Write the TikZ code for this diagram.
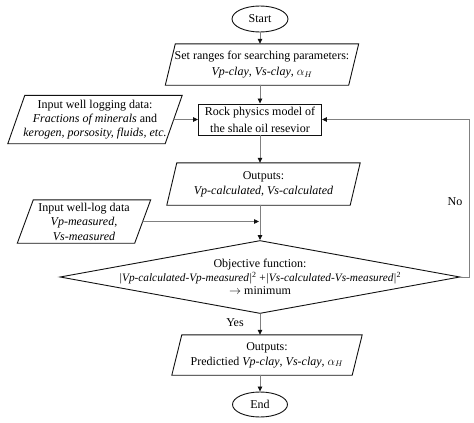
\documentclass[tikz,border=0pt]{standalone}
\usepackage{fontspec}
\setmainfont{Liberation Serif}
\usetikzlibrary{arrows.meta}
\usetikzlibrary{positioning}
\usetikzlibrary{shapes.geometric}
\definecolor{fcink}{HTML}{111111}
\definecolor{fcline}{HTML}{808080}
\tikzset{
  fcterm/.style={
    draw=fcink, ellipse, line width=0.9pt, inner sep=0pt,
    minimum width=56pt, minimum height=26pt},
  fcproc/.style={
    draw=fcink, line width=0.9pt, inner sep=0pt, align=center},
  fcio/.style={inner sep=0pt, align=center},
  fcedge/.style={draw=fcink, line width=0.9pt, line join=miter},
  fcdecide/.style={
    draw=fcink, diamond, line width=0.9pt, inner sep=0pt,
    minimum width=400pt, minimum height=73pt},
  fcarrow/.style={
    draw=fcline, line width=0.8pt,
    -{Triangle[length=5pt, width=4.5pt, color=fcink]}},
  every picture/.style={line cap=round},
}
% slanted outline round an io node: #1 node, #2 half the slant
\newcommand{\fcslant}[2]{%
  \draw[fcedge] ([xshift=#2]#1.north west) -- ([xshift=#2]#1.north east)
    -- ([xshift=-#2]#1.south east) -- ([xshift=-#2]#1.south west) -- cycle;}

\begin{document}
\begin{tikzpicture}[x=1pt, y=-1pt, font=\fontsize{12}{15}\selectfont]
\useasboundingbox (0,0) rectangle (474,423);

% Terminals and main column.
\node[fcterm] (start) at (260,19) {Start};

\node[fcio, minimum width=183pt, minimum height=41pt,
      font=\fontsize{12}{16}\selectfont] (setr) at (262,64.5)
  {Set ranges for searching parameters:\\
   \textit{Vp-clay}, \textit{Vs-clay}, $\alpha_H$};
\fcslant{setr}{5pt}

\node[fcproc, minimum width=123pt, minimum height=31pt,
      font=\fontsize{12}{17}\selectfont] (rock) at (260,119.5)
  {Rock physics model of\\the shale oil resevior};

\node[fcio, minimum width=157pt, minimum height=48pt,
      font=\fontsize{12}{14}\selectfont] (wlog) at (95,119.5)
  {Input well logging data:\\
   \textit{Fractions of minerals} and\\
   \textit{kerogen, porsosity, fluids, etc.}};
\fcslant{wlog}{8.5pt}

\node[fcio, minimum width=183pt, minimum height=42pt] (outc) at (263.5,184)
  {Outputs:\\ \textit{Vp-calculated, Vs-calculated}};
\fcslant{outc}{5pt}

\node[fcio, minimum width=117pt, minimum height=43pt,
      font=\fontsize{12}{14.5}\selectfont] (wmeas) at (84,221.5)
  {Input well-log data\\ \textit{Vp-measured},\\ \textit{Vs-measured}};
\fcslant{wmeas}{8pt}

% Decision.
\node[fcdecide] (obj) at (260,277) {};
\node[fcio, font=\fontsize{12}{13.5}\selectfont] (objtext) at (obj)
  {Objective function:\\
   {\fontsize{11.3}{13.5}\selectfont
   \textit{|Vp-calculated-Vp-measured|}\textsuperscript{2}
   +\textit{|Vs-calculated-Vs-measured|}\textsuperscript{2}}\\
   $\rightarrow$ minimum};

\node[fcio, minimum width=180pt, minimum height=40pt] (outp) at (267,355)
  {Outputs:\\ Predictied \textit{Vp-clay}, \textit{Vs-clay}, $\alpha_H$};
\fcslant{outp}{5pt}

\node[fcterm, minimum width=55pt, minimum height=25pt] (end) at (260,404.5)
  {End};

% Labels on the branches.
\node[fcio] (yes) at (235,323) {Yes};
\node[fcio] (no) at (455,202) {No};

% Connectors.
\draw[fcarrow] (start.south) -- (start.south |- setr.north);
\draw[fcarrow] (rock |- setr.south) -- (rock.north);
\draw[fcarrow] (wlog.east) -- (rock.west);
\draw[fcarrow] (rock.south) -- (rock |- outc.north);
\draw[fcarrow] (rock |- outc.south) -- (obj.north);
\draw[fcarrow] (wmeas.east) -- ([xshift=-1pt]wmeas.east -| obj.north);
\draw[fcarrow] (obj.south) -- (obj.south |- outp.north);
\draw[fcarrow] (end |- outp.south) -- (end.north);
\draw[fcarrow] (obj.east) -- ++(9,0) |- (rock.east);

\end{tikzpicture}
\end{document}
